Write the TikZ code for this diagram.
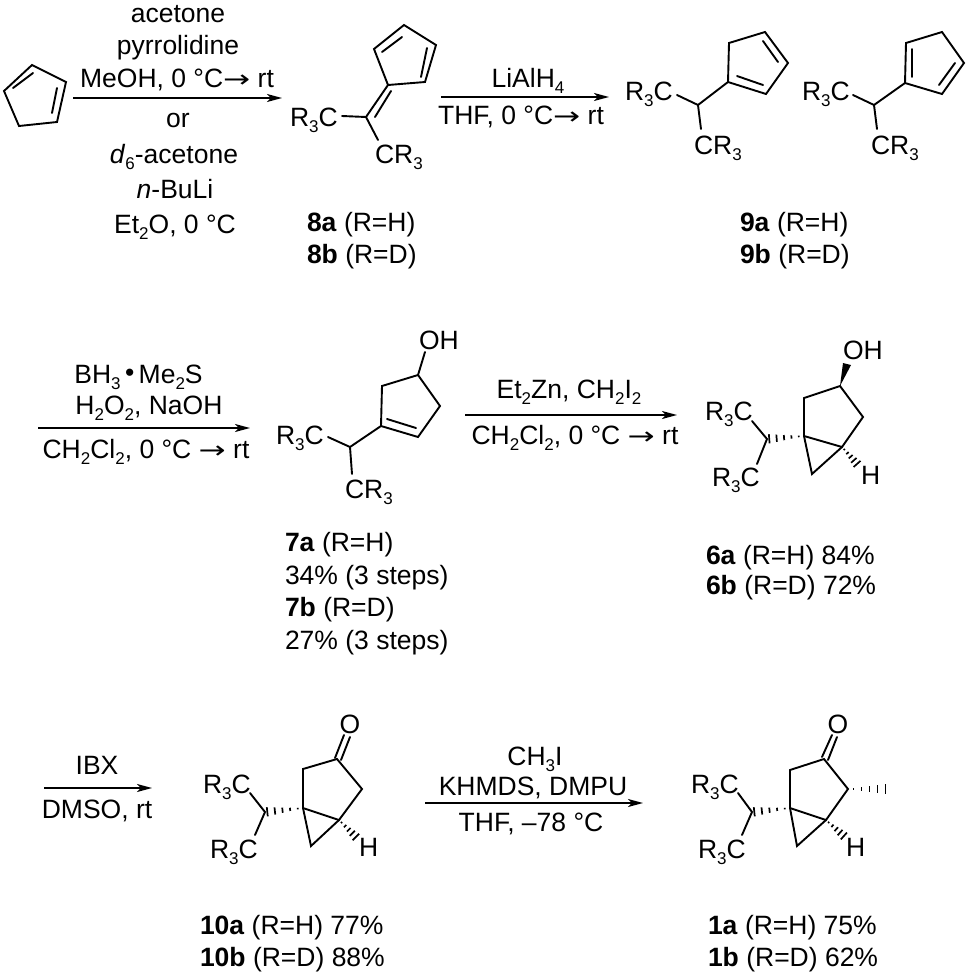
\documentclass[tikz,border=0pt]{standalone}
\usepackage{fontspec}
\setmainfont{Liberation Sans}
\newfontfamily\arrfont{DejaVu Sans}
\usetikzlibrary{calc,arrows.meta}
\newcommand{\dn}[1]{\raisebox{-.24em}{\fontsize{17}{17}\selectfont #1}}
\newcommand{\rar}{\scalebox{1.35}[1]{\arrfont\fontsize{24}{24}\selectfont →}}
\newcommand{\hashb}[2]{%
  \foreach \t/\w in {.14/.8,.34/1.6,.54/2.6,.74/3.6,.94/4.6}{%
    \draw[hashline] ($(#1)!\t!(#2)!\w pt!90:(#2)$) -- ($(#1)!\t!(#2)!\w pt!-90:(#2)$);}}
\tikzset{
  txt/.style={inner sep=0pt,outer sep=0pt,yshift=-1.5pt,font=\fontsize{26.5}{28}\selectfont,text=black},
  cen/.style={txt,anchor=base},
  lef/.style={txt,anchor=base west},
  bond/.style={line width=1.9pt,line join=miter,line cap=round,black},
  hashline/.style={line width=1.7pt,black},
  rxn/.style={line width=1.6pt,black,-{Stealth[length=15pt,width=8pt,inset=4pt]}},
  x=1pt,y=-1pt
}
\begin{document}
\begin{tikzpicture}
\useasboundingbox (0,0) rectangle (968,974);
% reaction arrows
\coordinate (a1s) at (73,98);   \coordinate (a1e) at (282,98);
\coordinate (a2s) at (441,97);  \coordinate (a2e) at (609,97);
\coordinate (a3s) at (38,428);  \coordinate (a3e) at (250,428);
\coordinate (a4s) at (465,415); \coordinate (a4e) at (677,415);
\coordinate (a5s) at (44,788);  \coordinate (a5e) at (152,788);
\coordinate (a6s) at (425,803); \coordinate (a6e) at (643,803);
\foreach \n in {1,...,6}{\draw[rxn] (a\n s) -- (a\n e);}
% reagents
\node[cen] (r1a) at (178,21) {acetone};
\node[cen] (r1b) at (178,53) {pyrrolidine};
\node[cen] (r1c) at (177,86) {MeOH, 0 °C\rar\ rt};
\node[cen] (r1d) at (178,126) {or};
\node[cen] (r1e) at (174,162) {\textit{d}\dn{6}-acetone};
\node[cen] (r1f) at (175,197) {\textit{n}-BuLi};
\node[cen] (r1g) at (175,232) {Et\dn{2}O, 0 °C};
\node[cen] (r2a) at (528,86) {LiAlH\dn{4}};
\node[cen] (r2b) at (521,123) {THF, 0 °C\rar\ rt};
\node[cen] (r3a) at (138.5,381.5) {BH\dn{3}\,\raisebox{.05em}{•}\,Me\dn{2}S};
\node[cen] (r3b) at (149,412.5) {H\dn{2}O\dn{2}, NaOH};
\node[cen] (r3c) at (146,456.5) {CH\dn{2}Cl\dn{2}, 0 °C \rar\ rt};
\node[cen] (r4a) at (569,396.5) {Et\dn{2}Zn, CH\dn{2}I\dn{2}};
\node[cen] (r4b) at (575,442.5) {CH\dn{2}Cl\dn{2}, 0 °C \rar\ rt};
\node[cen] (r5a) at (97,772.5) {IBX};
\node[cen] (r5b) at (97,816.5) {DMSO, rt};
\node[cen] (r6a) at (535,763.5) {CH\dn{3}I};
\node[cen] (r6b) at (533,793.5) {KHMDS, DMPU};
\node[cen] (r6c) at (531,829.5) {THF, –78 °C};
% compound labels
\node[lef] (l8a) at (307,230) {\textbf{8a} (R=H)};
\node[lef] (l8b) at (307,262) {\textbf{8b} (R=D)};
\node[lef] (l9a) at (740,230) {\textbf{9a} (R=H)};
\node[lef] (l9b) at (740,262) {\textbf{9b} (R=D)};
\node[lef] (l7a) at (285,550) {\textbf{7a} (R=H)};
\node[lef] (l7c) at (285,583) {34\% (3 steps)};
\node[lef] (l7b) at (285,615) {\textbf{7b} (R=D)};
\node[lef] (l7d) at (285,648) {27\% (3 steps)};
\node[lef] (l6a) at (706,563) {\textbf{6a} (R=H) 84\%};
\node[lef] (l6b) at (706,593) {\textbf{6b} (R=D) 72\%};
\node[lef] (l10a) at (200,933) {\textbf{10a} (R=H) 77\%};
\node[lef] (l10b) at (200,965) {\textbf{10b} (R=D) 88\%};
\node[lef] (l1a) at (708,933) {\textbf{1a} (R=H) 75\%};
\node[lef] (l1b) at (708,965) {\textbf{1b} (R=D) 62\%};
% cyclopentadiene
\draw[bond] (32,65) -- (66,82) -- (57,122) -- (19,126) -- (4,91) -- cycle;
\draw[bond] (13,88) -- (33,73);
\draw[bond] (57,88) -- (52,113);
% 8
\draw[bond] (404,25) -- (436,45) -- (425,82) -- (388,85) -- (374,49) -- cycle;
\draw[bond] (382,52) -- (402,37);
\draw[bond] (427,48) -- (421,77);
\draw[bond] (388,85) -- (366,117);
\draw[bond] (391,91) -- (375,117);
\draw[bond] (342,116) -- (366,117) -- (378,140);
\node[lef] (c8a) at (290,125) {R\dn{3}C};
\node[lef] (c8b) at (375,162) {CR\dn{3}};
% 9 left
\draw[bond] (729,43) -- (765,32) -- (788,63) -- (766,94) -- (728,82) -- cycle;
\draw[bond] (763,41) -- (778,62);
\draw[bond] (737,76) -- (763,85);
\draw[bond] (677,95) -- (698,105) -- (728,82);
\draw[bond] (698,105) -- (701,129);
\node[lef] (c9a) at (625,99) {R\dn{3}C};
\node[lef] (c9b) at (694,153) {CR\dn{3}};
% 9 right
\draw[bond] (906,43) -- (942,32) -- (964,63) -- (942,94) -- (905,83) -- cycle;
\draw[bond] (912,49) -- (912,77);
\draw[bond] (955,63) -- (939,85);
\draw[bond] (853,95) -- (874,105) -- (905,83);
\draw[bond] (874,105) -- (877,129);
\node[lef] (c9c) at (802,99) {R\dn{3}C};
\node[lef] (c9d) at (871,153) {CR\dn{3}};
% 7
\draw[bond] (418,375) -- (440,406) -- (418,437) -- (381,426) -- (382,386) -- cycle;
\draw[bond] (387,419) -- (416,428);
\draw[bond] (418,375) -- (425,352);
\draw[bond] (328,437) -- (350,447) -- (381,426);
\draw[bond] (350,447) -- (352,474);
\node[lef] (c7a) at (276,443) {R\dn{3}C};
\node[lef] (c7b) at (345,497) {CR\dn{3}};
\node[lef] (c7c) at (419,348) {OH};
% 6
\draw[bond] (840,386) -- (863,417) -- (842,447) -- (804,436) -- (804,398) -- cycle;
\draw[bond] (804,436) -- (812,474) -- (842,447);
\fill[black] (840,386) -- (843,363) -- (851,365) -- cycle;
\coordinate (s6a) at (804,436); \coordinate (s6b) at (767,439);
\coordinate (s6c) at (842,447); \coordinate (s6d) at (858,465);
\hashb{s6a}{s6b}
\hashb{s6c}{s6d}
\draw[bond] (752,421) -- (767,439) -- (757,464);
\node[lef] (c6a) at (705,419) {R\dn{3}C};
\node[lef] (c6b) at (712,485) {R\dn{3}C};
\node[lef] (c6c) at (843,358) {OH};
\node[lef] (c6d) at (861,483) {H};
% 10
\draw[bond] (337,759) -- (362,789) -- (339,820) -- (303,808) -- (303,769) -- cycle;
\draw[bond] (303,808) -- (311,846) -- (339,820);
\draw[bond] (335,758) -- (344,735);
\draw[bond] (341,760) -- (350,737);
\coordinate (s10a) at (303,808); \coordinate (s10b) at (265,812);
\coordinate (s10c) at (339,820); \coordinate (s10d) at (357,838);
\hashb{s10a}{s10b}
\hashb{s10c}{s10d}
\draw[bond] (250,793) -- (265,812) -- (255,835);
\node[lef] (c10a) at (203,792) {R\dn{3}C};
\node[lef] (c10b) at (210,857) {R\dn{3}C};
\node[cen] (c10c) at (350,732) {O};
\node[lef] (c10d) at (359,855) {H};
% 1
\draw[bond] (824,759) -- (848,789) -- (826,820) -- (790,808) -- (790,770) -- cycle;
\draw[bond] (790,808) -- (797,846) -- (826,820);
\draw[bond] (822,757) -- (832,735);
\draw[bond] (828,760) -- (837,737);
\coordinate (s1a) at (790,808); \coordinate (s1b) at (752,812);
\coordinate (s1c) at (826,820); \coordinate (s1d) at (845,837);
\coordinate (s1e) at (848,789); \coordinate (s1f) at (888,789);
\hashb{s1a}{s1b}
\hashb{s1c}{s1d}
\hashb{s1e}{s1f}
\draw[bond] (738,793) -- (752,812) -- (742,835);
\node[lef] (c1a) at (691,792) {R\dn{3}C};
\node[lef] (c1b) at (698,857) {R\dn{3}C};
\node[cen] (c1c) at (838,732) {O};
\node[lef] (c1d) at (846,855) {H};
\end{tikzpicture}
\end{document}
